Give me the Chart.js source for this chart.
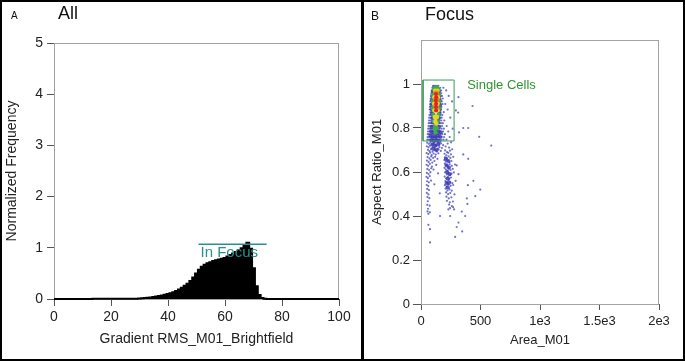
<!DOCTYPE html>
<html>
<head>
<meta charset="utf-8">
<script src="https://cdn.jsdelivr.net/npm/chart.js@4.4.0/dist/chart.umd.min.js"></script>
<style>
body{margin:0;background:#fff;font-family:"Liberation Sans",Arial,sans-serif}
#wrap{position:relative;width:685px;height:361px;overflow:hidden;background:#fff}
canvas{position:absolute;top:0}
.lbl{position:absolute;line-height:1;color:#111;white-space:nowrap}
.frame{position:absolute;background:#000}
</style>
</head>
<body>
<div id="wrap">
  <canvas id="histChart" width="362" height="361" style="left:0"></canvas>
  <canvas id="dotChart" width="322" height="361" style="left:363px"></canvas>
  <div class="lbl" style="left:11px;top:11px;font-size:10px">A</div>
  <div class="lbl" style="left:58px;top:4px;font-size:18px">All</div>
  <div class="lbl" style="left:371px;top:10px;font-size:12px">B</div>
  <div class="lbl" style="left:425px;top:5px;font-size:18px">Focus</div>
  <div class="frame" style="left:0;top:0;width:685px;height:2px"></div>
  <div class="frame" style="left:0;bottom:0;width:685px;height:2px"></div>
  <div class="frame" style="left:0;top:0;width:2px;height:361px"></div>
  <div class="frame" style="right:0;top:0;width:2px;height:361px"></div>
  <div class="frame" style="left:361px;top:0;width:3px;height:361px"></div>
</div>
<script>
// ---- panel A : histogram ----
const gradientBins=[0,27,28,29,30,31,32,33,34,35,36,37,38,39,40,41,42,43,44,45,46,47,48,49,50,
  51,52,53,54,55,56,57,58,59,60,61,62,63,64,65,66,67,68,69,70,71,72,73,74,75,100]
const normFreq=[0,0.003,0.005,0.007,0.01,0.014,0.018,0.024,0.03,0.038,0.047,0.058,0.07,0.083,0.097,0.11,0.13,0.155,0.185,0.22,0.26,0.3,0.35,0.42,0.5,
  0.57,0.63,0.67,0.7,0.72,0.74,0.755,0.77,0.785,0.8,0.83,0.86,0.89,0.92,0.95,0.99,1.05,1.1,0.98,0.6,0.25,0.08,0.02,0.005,0,0]
const histXTicks=[0,20,40,60,80,100]
const histYTicks=[0,1,2,3,4,5]
const inFocusGateX=[50.7,74.6]
const inFocusGateY=1.07

// ---- panel B : scatter ----
const areaTicks=[0,500,1000,1500,2000]
const areaTickLabels=['0','500','1e3','1.5e3','2e3']
const aspectTicks=[0,0.2,0.4,0.6,0.8,1]
const singleCellsGateX=[17,278]
const singleCellsGateY=[0.741,1.018]

// upper column, rows of cells: [aspect ratio, [areas...]]
const cellRows=[
  [0.992,[103,121,134,146]],
  [0.983,[97,113,141,161,188]],
  [0.971,[91,106,150,168,212]],
  [0.958,[87,99,157,170]],
  [0.946,[84,94,161,176,233]],
  [0.934,[81,95,163,183]],
  [0.921,[79,92,157,174,261]],
  [0.909,[77,89,159,181,204]],
  [0.896,[75,87,156,171]],
  [0.884,[73,85,101,151,167,224]],
  [0.872,[79,93,103,149,164,191]],
  [0.859,[71,83,97,147,163,179]],
  [0.847,[69,84,95,111,143,157,173,246]],
  [0.834,[67,79,93,109,137,155,171,196]],
  [0.822,[65,77,91,103,121,135,151,167,183]],
  [0.809,[63,77,87,101,115,127,145,161,177,216]],
  [0.797,[61,73,85,99,111,125,141,155,173,192,266]],
  [0.784,[59,71,83,97,109,121,135,149,165,185,229]],
  [0.772,[57,69,81,93,107,119,131,147,161,179,201]],
  [0.759,[55,67,79,91,105,117,129,143,157,175,194,241]],
  [0.747,[53,65,77,89,103,115,127,141,155,171,189,214]]
]
// lower part of the cloud, [area, aspect ratio]
const lowerCells=[
  [52,0.733],[66,0.728],[79,0.735],[93,0.726],[108,0.731],[121,0.724],[137,0.733],[152,0.727],[169,0.73],[186,0.722],[224,0.729],[253,0.735],
  [49,0.717],[63,0.712],[75,0.719],[88,0.708],[99,0.715],[113,0.71],[127,0.718],[141,0.706],[155,0.713],[176,0.709],[207,0.716],[236,0.711],
  [58,0.701],[71,0.695],[84,0.703],[97,0.692],[118,0.699],[133,0.693],[148,0.702],[166,0.696],[203,0.698],[219,0.69],[243,0.697],[262,0.703],
  [47,0.686],[61,0.681],[77,0.688],[90,0.677],[106,0.684],[124,0.679],[146,0.685],[198,0.683],[213,0.676],[229,0.687],[251,0.68],
  [55,0.668],[70,0.662],[86,0.671],[102,0.664],[119,0.669],[138,0.66],[201,0.667],[216,0.661],[232,0.671],[247,0.664],[271,0.669],
  [50,0.652],[64,0.646],[81,0.655],[95,0.643],[113,0.65],[196,0.654],[209,0.647],[224,0.652],[239,0.644],[256,0.65],
  [47,0.633],[60,0.628],[74,0.637],[92,0.624],[128,0.632],[200,0.638],[214,0.631],[227,0.625],[241,0.635],[259,0.628],[286,0.634],
  [53,0.614],[68,0.609],[86,0.617],[105,0.611],[197,0.619],[208,0.612],[221,0.606],[234,0.616],[249,0.609],[267,0.614],
  [49,0.596],[63,0.591],[79,0.599],[143,0.594],[203,0.598],[217,0.589],[229,0.595],[244,0.587],[257,0.593],[276,0.598],
  [46,0.578],[58,0.572],[73,0.581],[199,0.579],[212,0.571],[226,0.577],[238,0.569],[252,0.575],
  [51,0.558],[66,0.553],[84,0.561],[205,0.559],[219,0.552],[233,0.562],[246,0.555],[263,0.549],[291,0.56],
  [48,0.541],[61,0.536],[112,0.544],[201,0.54],[215,0.534],[229,0.543],[249,0.537],[271,0.541],
  [52,0.523],[67,0.518],[207,0.524],[222,0.516],[239,0.521],[258,0.515],
  [49,0.505],[63,0.498],[158,0.503],[211,0.507],[228,0.499],[246,0.504],[281,0.498],
  [54,0.486],[70,0.481],[214,0.488],[233,0.48],[255,0.485],
  [57,0.467],[218,0.469],[242,0.462],[268,0.466],
  [53,0.451],[73,0.447],[236,0.452],[259,0.445],
  [59,0.433],[244,0.436],[55,0.421],[75,0.417]
]
const outlierCells=[[315,0.94],[433,0.9],[293,0.88],[312,0.87],[355,0.8],[397,0.8],[320,0.78],[489,0.76],[590,0.72],
  [355,0.68],[397,0.66],[300,0.63],[440,0.56],[394,0.54],[315,0.59],[498,0.52],[456,0.49],[385,0.48],[390,0.455],
  [343,0.42],[371,0.4],[315,0.37],[300,0.35],[346,0.33],[287,0.305],[62,0.36],[76,0.34],[76,0.28],[62,0.41],
  [160,0.4],[245,0.4],[230,0.43],[278,0.43],[270,0.44]]
const denseCells=[[110,0.985],[130,0.985],[100,0.965],[150,0.965],[95,0.945],[155,0.945],[92,0.925],[158,0.925],
  [90,0.905],[160,0.905],[90,0.885],[158,0.885],[92,0.865],[155,0.865],[95,0.845],[150,0.845],[98,0.825],[120,0.82],
  [145,0.825],[90,0.805],[110,0.8],[130,0.8],[150,0.805],[85,0.785],[105,0.78],[125,0.78],[145,0.785],[165,0.78],
  [80,0.765],[100,0.76],[120,0.76],[140,0.765],[160,0.76],[88,0.745],[110,0.74],[132,0.745],[152,0.74],[95,0.725],
  [120,0.72],[145,0.725],[105,0.705],[130,0.7],[210,0.66],[230,0.65],[215,0.63],[235,0.62],[220,0.6],[240,0.59],
  [225,0.57],[215,0.55],[235,0.55],[225,0.53]]
const greenCore=[[110,0.98],[130,0.985],[145,0.975],[100,0.95],[150,0.95],[98,0.92],[152,0.92],[100,0.89],[150,0.89],
  [105,0.86],[148,0.86],[108,0.83],[140,0.83],[115,0.8],[132,0.8],[122,0.78]]
const yellowCore=[[118,0.97],[138,0.97],[112,0.94],[142,0.94],[110,0.91],[140,0.91],[112,0.88],[140,0.88],[115,0.85],
  [135,0.85],[120,0.83],[128,0.82]]
const orangeCore=[[122,0.96],[134,0.96],[118,0.93],[136,0.93],[120,0.9],[132,0.89]]
const redCore=[[126,0.955],[128,0.94],[125,0.925],[127,0.91],[126,0.895],[127,0.88]]

const FONT='"Liberation Sans", Arial, sans-serif'
const toPts=arr=>arr.map(p=>({x:p[0],y:p[1]}))

const plotBox={
  id:'plotBox',
  beforeDatasetsDraw(chart){
    const a=chart.chartArea, c=chart.ctx
    c.save()
    c.strokeStyle='#a3a3a3'
    c.lineWidth=1
    c.strokeRect(Math.round(a.left)+0.5,Math.round(a.top)+0.5,Math.round(a.width)-1,Math.round(a.height))
    c.restore()
  }
}

function gateText(text,x,y,color,size){
  return {
    id:'gate_'+text.replace(/\s/g,''),
    afterDatasetsDraw(chart){
      const c=chart.ctx
      c.save()
      c.font=size+'px '+FONT
      c.fillStyle=color
      c.textBaseline='middle'
      c.fillText(text,chart.scales.x.getPixelForValue(x),chart.scales.y.getPixelForValue(y))
      c.restore()
    }
  }
}

//histogram
new Chart('histChart',{
  type:'line',
  data:{
    datasets:[{
      data:[{x:inFocusGateX[0],y:inFocusGateY},{x:inFocusGateX[1],y:inFocusGateY}],
      borderColor:'#2a8f8f',borderWidth:1.5,pointRadius:0,fill:false
    },{
      data:gradientBins.map((b,i)=>({x:b,y:normFreq[i]})),
      stepped:'middle',fill:'origin',backgroundColor:'#000',borderColor:'#000',borderWidth:2,pointRadius:0,clip:3
    }]
  },
  options:{
    responsive:false,animation:false,devicePixelRatio:1,
    layout:{padding:{top:43,right:23,left:0,bottom:9}},
    plugins:{legend:{display:false},tooltip:{enabled:false}},
    scales:{
      x:{type:'linear',min:0,max:100,
        afterBuildTicks:s=>{s.ticks=histXTicks.map(v=>({value:v}))},
        afterFit:s=>{s.height=53},
        border:{display:false},
        grid:{drawOnChartArea:false,tickLength:7,color:'#555'},
        ticks:{color:'#222',padding:3,font:{family:FONT,size:14}},
        title:{display:true,text:'Gradient RMS_M01_Brightfield',color:'#222',font:{family:FONT,size:14},padding:{top:0,bottom:4}}
      },
      y:{min:0,max:5,
        afterBuildTicks:s=>{s.ticks=histYTicks.map(v=>({value:v}))},
        afterFit:s=>{s.width=54},
        border:{display:false},
        grid:{drawOnChartArea:false,tickLength:7,color:'#555'},
        ticks:{color:'#222',padding:4,font:{family:FONT,size:14}},
        title:{display:true,text:'Normalized Frequency',color:'#222',font:{family:FONT,size:14},padding:{top:4,bottom:0}}
      }
    }
  },
  plugins:[plotBox,gateText('In Focus',51.4,0.9,'#2a8f8f',15)]
})

//scatter
const blueCells=cellRows.flatMap(([y,xs])=>xs.map(x=>({x,y})))
  .concat(toPts(lowerCells),toPts(outlierCells))
const gateRect=[
  {x:singleCellsGateX[0],y:singleCellsGateY[0]},{x:singleCellsGateX[1],y:singleCellsGateY[0]},
  {x:singleCellsGateX[1],y:singleCellsGateY[1]},{x:singleCellsGateX[0],y:singleCellsGateY[1]},
  {x:singleCellsGateX[0],y:singleCellsGateY[0]}]

new Chart('dotChart',{
  type:'scatter',
  data:{
    datasets:[
      {type:'line',data:gateRect,borderColor:'#3d9a55',borderWidth:1,pointRadius:0,fill:false},
      {data:toPts(redCore),backgroundColor:'#e42020',pointRadius:2,borderWidth:0},
      {data:toPts(orangeCore),backgroundColor:'#f08a1e',pointRadius:2.2,borderWidth:0},
      {data:toPts(yellowCore),backgroundColor:'#e8d424',pointRadius:2.2,borderWidth:0},
      {data:toPts(greenCore),backgroundColor:'#3cb040',pointRadius:2.2,borderWidth:0},
      {data:toPts(denseCells),backgroundColor:'rgba(55,55,175,0.8)',pointRadius:2.1,borderWidth:0},
      {data:blueCells,backgroundColor:'rgba(65,65,190,0.75)',pointRadius:1.1,borderWidth:0}
    ]
  },
  options:{
    responsive:false,animation:false,devicePixelRatio:1,
    layout:{padding:{top:40,right:26,left:0,bottom:9}},
    plugins:{legend:{display:false},tooltip:{enabled:false}},
    scales:{
      x:{type:'linear',min:0,max:2000,
        afterBuildTicks:s=>{s.ticks=areaTicks.map(v=>({value:v}))},
        afterFit:s=>{s.height=48},
        border:{display:false},
        grid:{drawOnChartArea:false,tickLength:6,color:'#555'},
        ticks:{color:'#222',padding:4,font:{family:FONT,size:13},callback:(v,i)=>areaTickLabels[i]},
        title:{display:true,text:'Area_M01',color:'#222',font:{family:FONT,size:13},padding:{top:0,bottom:4}}
      },
      y:{min:0,max:1.2,
        afterBuildTicks:s=>{s.ticks=aspectTicks.map(v=>({value:v}))},
        afterFit:s=>{s.width=58},
        border:{display:false},
        grid:{drawOnChartArea:false,tickLength:8,color:'#555'},
        ticks:{color:'#222',padding:3,font:{family:FONT,size:13},callback:v=>String(Number(v.toFixed(1)))},
        title:{display:true,text:'Aspect Ratio_M01',color:'#222',font:{family:FONT,size:13},padding:{top:7,bottom:0}}
      }
    }
  },
  plugins:[plotBox,gateText('Single Cells',388,0.995,'#2e962e',13)]
})
</script>
</body>
</html>
